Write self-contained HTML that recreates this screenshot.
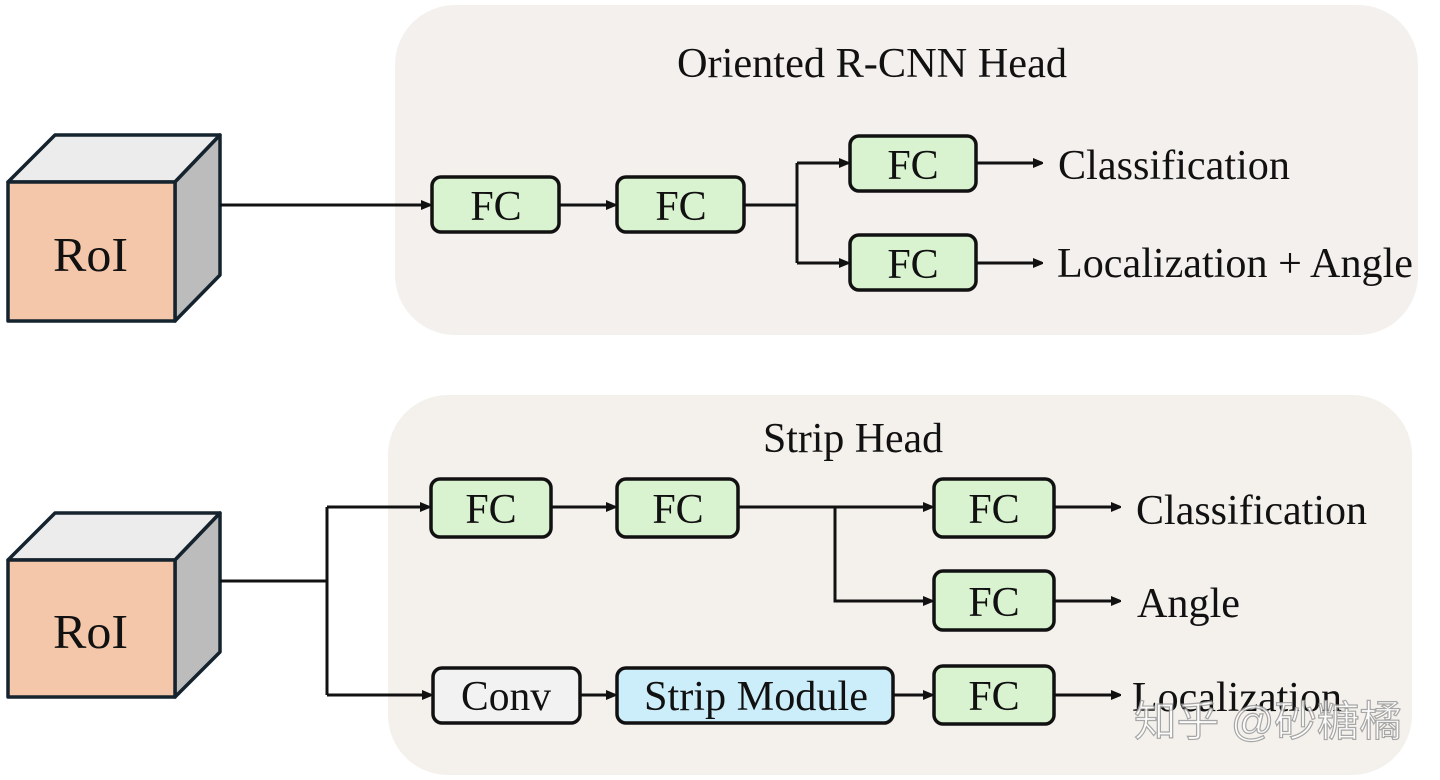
<!DOCTYPE html>
<html><head><meta charset="utf-8"><style>
html,body{margin:0;padding:0;background:#fff;width:1440px;height:780px;overflow:hidden}
text{font-family:"Liberation Serif",serif;fill:#111}
</style></head><body>
<svg width="1440" height="780" viewBox="0 0 1440 780" xmlns="http://www.w3.org/2000/svg">
<defs>
<marker id="a" markerWidth="10" markerHeight="10" refX="9" refY="5" orient="auto" markerUnits="userSpaceOnUse"><path d="M0,0 L12,5 L0,10 z" fill="#111"/></marker>
</defs>
<rect x="395" y="5" width="1023" height="330" rx="60" fill="#f4f0ed"/>
<rect x="388" y="395" width="1024" height="380" rx="60" fill="#f4f1ed"/>
<g stroke="#14232e" stroke-width="3.5" stroke-linejoin="round">
<polygon points="8,182 55,135 220,135 175,182" fill="#ececec"/>
<polygon points="175,182 220,135 220,275 175,321" fill="#bcbcbc"/>
<rect x="8" y="182" width="167" height="139" fill="#f4c7ab"/>
<polygon points="8,560 55,513 220,513 175,560" fill="#ececec"/>
<polygon points="175,560 220,513 220,652 175,697" fill="#bcbcbc"/>
<rect x="8" y="560" width="167" height="137" fill="#f4c7ab"/>
</g>
<text x="53" y="271" font-size="49" textLength="75" lengthAdjust="spacingAndGlyphs">RoI</text>
<text x="53" y="648" font-size="49" textLength="75" lengthAdjust="spacingAndGlyphs">RoI</text>
<g stroke="#111" stroke-width="3" fill="none">
<line x1="220" y1="205" x2="430" y2="205" marker-end="url(#a)"/>
<line x1="559" y1="205" x2="615" y2="205" marker-end="url(#a)"/>
<polyline points="744,205 797,205"/>
<polyline points="797,163 797,263"/>
<line x1="797" y1="163" x2="848" y2="163" marker-end="url(#a)"/>
<line x1="797" y1="263" x2="848" y2="263" marker-end="url(#a)"/>
<line x1="976" y1="163" x2="1042" y2="163" marker-end="url(#a)"/>
<line x1="976" y1="263" x2="1042" y2="263" marker-end="url(#a)"/>
<line x1="220" y1="581" x2="327" y2="581"/>
<line x1="327" y1="507" x2="327" y2="695"/>
<line x1="327" y1="507" x2="429" y2="507" marker-end="url(#a)"/>
<line x1="327" y1="695" x2="431" y2="695" marker-end="url(#a)"/>
<line x1="551" y1="507" x2="615" y2="507" marker-end="url(#a)"/>
<line x1="738" y1="507" x2="932" y2="507" marker-end="url(#a)"/>
<polyline points="835,507 835,601 932,601" marker-end="url(#a)"/>
<line x1="580" y1="695" x2="615" y2="695" marker-end="url(#a)"/>
<line x1="893" y1="695" x2="932" y2="695" marker-end="url(#a)"/>
<line x1="1054" y1="507" x2="1120" y2="507" marker-end="url(#a)"/>
<line x1="1054" y1="601" x2="1120" y2="601" marker-end="url(#a)"/>
<line x1="1054" y1="695" x2="1120" y2="695" marker-end="url(#a)"/>
</g>
<g stroke="#111" stroke-width="3.5">
<rect x="432" y="177" width="127" height="55" rx="9" fill="#d9f2d0"/>
<rect x="617" y="177" width="127" height="55" rx="9" fill="#d9f2d0"/>
<rect x="850" y="136" width="126" height="55" rx="9" fill="#d9f2d0"/>
<rect x="850" y="235" width="126" height="55" rx="9" fill="#d9f2d0"/>
<rect x="431" y="479" width="120" height="58" rx="9" fill="#d9f2d0"/>
<rect x="617" y="479" width="121" height="58" rx="9" fill="#d9f2d0"/>
<rect x="934" y="479" width="120" height="58" rx="9" fill="#d9f2d0"/>
<rect x="934" y="571" width="120" height="59" rx="9" fill="#d9f2d0"/>
<rect x="433" y="668" width="147" height="55" rx="9" fill="#f2f2f2"/>
<rect x="617" y="668" width="276" height="55" rx="9" fill="#ccedfa"/>
<rect x="934" y="666" width="120" height="58" rx="9" fill="#d9f2d0"/>
</g>
<g font-size="42" text-anchor="middle">
<text x="496" y="220">FC</text>
<text x="681" y="220">FC</text>
<text x="913" y="179">FC</text>
<text x="913" y="278">FC</text>
<text x="491" y="523">FC</text>
<text x="678" y="523">FC</text>
<text x="994" y="523">FC</text>
<text x="994" y="616">FC</text>
<text x="994" y="710">FC</text>
</g>
<g font-size="42" lengthAdjust="spacingAndGlyphs">
<text x="461" y="710" textLength="90" lengthAdjust="spacingAndGlyphs">Conv</text>
<text x="644" y="710" textLength="224" lengthAdjust="spacingAndGlyphs">Strip Module</text>
<text x="677" y="77" textLength="390" lengthAdjust="spacingAndGlyphs">Oriented R-CNN Head</text>
<text x="763" y="452" textLength="180" lengthAdjust="spacingAndGlyphs">Strip Head</text>
<text x="1058" y="179" textLength="232" lengthAdjust="spacingAndGlyphs">Classification</text>
<text x="1057" y="277" textLength="356" lengthAdjust="spacingAndGlyphs">Localization + Angle</text>
<text x="1136" y="524" textLength="231" lengthAdjust="spacingAndGlyphs">Classification</text>
<text x="1137" y="617" textLength="103" lengthAdjust="spacingAndGlyphs">Angle</text>
<text x="1132" y="711" textLength="210" lengthAdjust="spacingAndGlyphs">Localization</text>
</g>
<text x="1134" y="736" font-size="42" textLength="268" lengthAdjust="spacingAndGlyphs" style="font-family:'Liberation Sans','Noto Sans CJK SC',sans-serif;fill:#fff;stroke:#999;stroke-width:1.2;opacity:0.85">知乎 @砂糖橘</text>
</svg>
</body></html>
